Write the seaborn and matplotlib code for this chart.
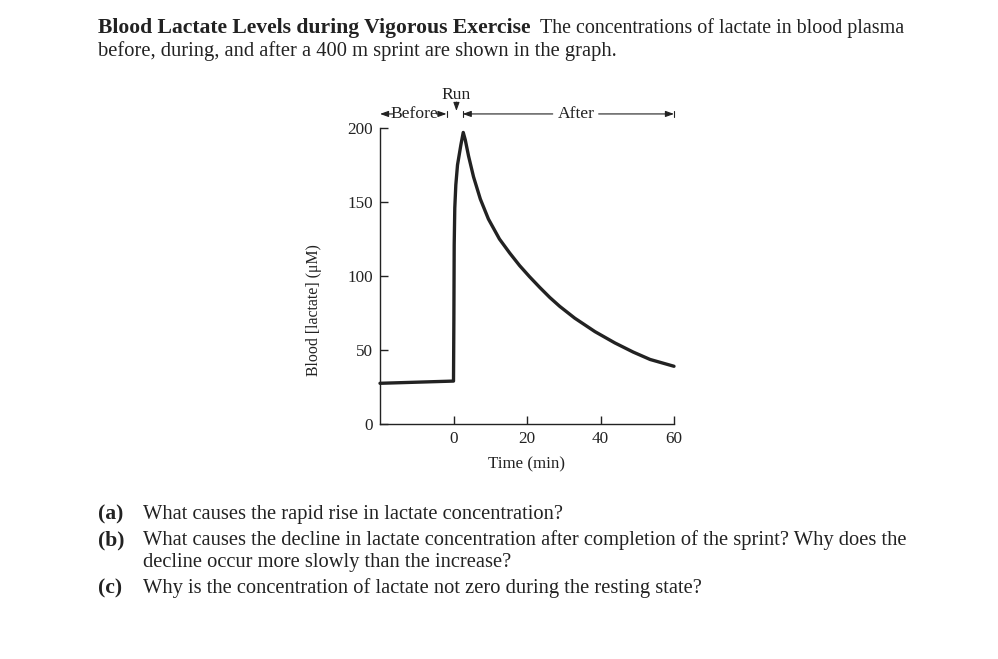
import numpy as np
import pandas as pd
import matplotlib.pyplot as plt
import seaborn as sns

# values
time_min = [-20, 0, 0.1, 0.19, 0.35, 0.63, 1.09, 2.0, 2.65, 3.2, 4.1, 5.45, 7.3, 9.5,
            12.5, 15.3, 18.0, 20.7, 23.5, 26.2, 28.9, 33.0, 38.5, 43.9, 48.9, 53.5, 60]
lactate_uM = [27.5, 29, 70, 121, 146, 161.5, 175, 188.5, 197, 192, 181, 167, 152, 138.5,
              125, 115.5, 107, 99.5, 92.2, 85.5, 79.5, 71.5, 62.4, 54.8, 48.6, 43.6, 39]
x_ticks = [0, 20, 40, 60]
y_ticks = [0, 50, 100, 150, 200]

title_bold = "Blood Lactate Levels during Vigorous Exercise"
title_rest = "The concentrations of lactate in blood plasma"
title_line2 = "before, during, and after a 400 m sprint are shown in the graph."
questions = [
    ("(a)", ["What causes the rapid rise in lactate concentration?"]),
    ("(b)", ["What causes the decline in lactate concentration after completion of the sprint? Why does the",
             "decline occur more slowly than the increase?"]),
    ("(c)", ["Why is the concentration of lactate not zero during the resting state?"]),
]

sns.set_style("ticks")
plt.rcParams['font.family'] = ['Liberation Serif', 'DejaVu Serif']
ink = '#222222'

W, H = 998, 659
fig = plt.figure(figsize=(W / 100, H / 100), dpi=100)
ax = fig.add_axes([380 / W, 1 - 424 / H, 294 / W, 296 / H])

df = pd.DataFrame({"time": time_min, "lactate": lactate_uM})
sns.lineplot(data=df, x="time", y="lactate", estimator=None, sort=False,
             color=ink, lw=2.4, ax=ax, solid_joinstyle='round', clip_on=False)

ax.set_xlim(-20, 60)
ax.set_ylim(0, 200)
ax.set_xticks(x_ticks)
ax.set_yticks(y_ticks)
sns.despine(ax=ax)
for s in ['left', 'bottom']:
    ax.spines[s].set_linewidth(1.0)
    ax.spines[s].set_color(ink)
ax.tick_params(direction='in', length=6, width=1.0, colors=ink, labelsize=12.3, pad=5)
ax.set_xlabel("Time (min)", fontsize=12.2, color=ink, labelpad=7)
ax.set_ylabel("Blood [lactate] (μM)", fontsize=11.4, color=ink)
ax.yaxis.set_label_coords(-0.197, 0.385)

# phase annotations above the plot
yb = 209.5
afs = 12.6
arrow_kw = dict(arrowstyle='-|>,head_length=0.5,head_width=0.18', color=ink, lw=0.8,
                shrinkA=0, shrinkB=0)
ax.text(-10.6, yb, "Before", ha='center', va='center', fontsize=afs, color=ink, clip_on=False)
ax.annotate("", xy=(-20, yb), xytext=(-16.5, yb), arrowprops=arrow_kw, annotation_clip=False)
ax.annotate("", xy=(-1.9, yb), xytext=(-4.6, yb), arrowprops=arrow_kw, annotation_clip=False)
ax.text(33.3, yb, "After", ha='center', va='center', fontsize=afs, color=ink, clip_on=False)
ax.annotate("", xy=(2.5, yb), xytext=(27.0, yb), arrowprops=arrow_kw, annotation_clip=False)
ax.annotate("", xy=(60, yb), xytext=(39.5, yb), arrowprops=arrow_kw, annotation_clip=False)
for xb in [-1.9, 2.5, 60]:
    ax.plot([xb, xb], [yb - 2.2, yb + 2.2], color=ink, lw=0.8, clip_on=False)
ax.text(0.8, 222, "Run", ha='center', va='center', fontsize=afs, color=ink, clip_on=False)
ax.annotate("", xy=(0.8, 211.5), xytext=(0.8, 217.5), arrowprops=arrow_kw, annotation_clip=False)

# caption text
fs = 14.75
fsb = 15.6
x0 = 98 / W
t1 = fig.text(x0, 1 - 28 / H, title_bold, fontsize=fsb, weight='bold', color=ink, va='center')
fig.canvas.draw()
r = fig.canvas.get_renderer()
bb = t1.get_window_extent(renderer=r)
fig.text((bb.x1 + 9) / W, 1 - 28 / H, title_rest, fontsize=14.4, color=ink, va='center')
fig.text(x0, 1 - 51 / H, title_line2, fontsize=fs, color=ink, va='center')

ys = [514.5, 540.5, 562.5, 588.5]
i = 0
for lab, lines in questions:
    fig.text(x0, 1 - ys[i] / H, lab, fontsize=fsb, weight='bold', color=ink, va='center')
    for ln in lines:
        fig.text(143 / W, 1 - ys[i] / H, ln, fontsize=fs, color=ink, va='center')
        i += 1

fig.savefig("out.png", dpi=100)
